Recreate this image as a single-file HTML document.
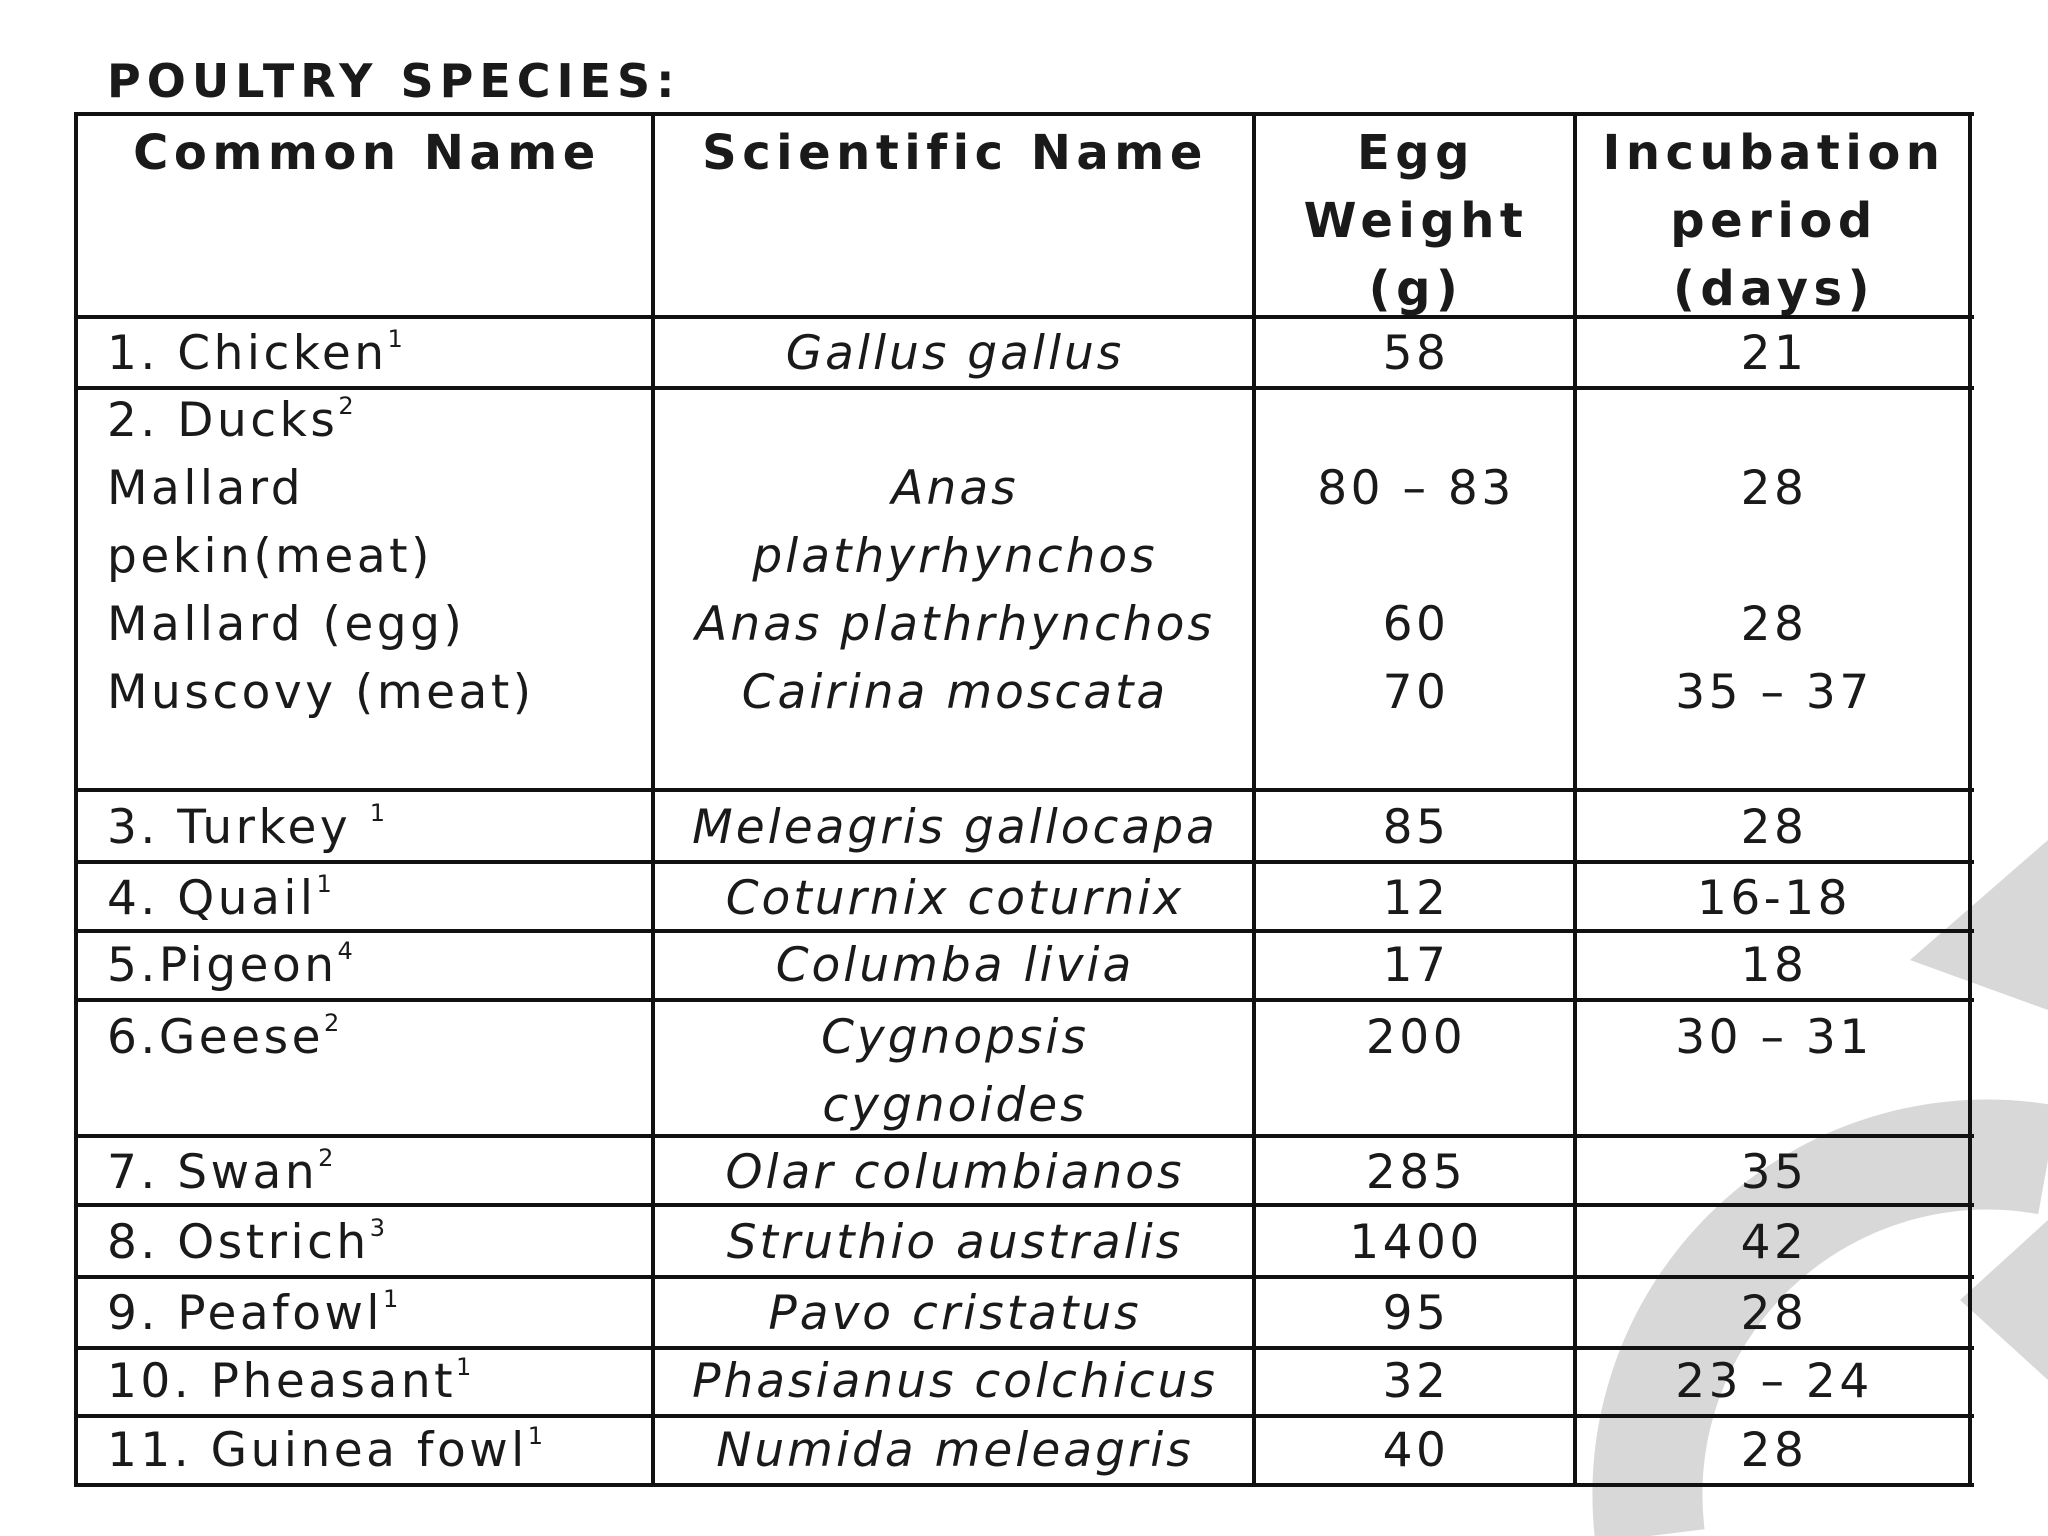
<!DOCTYPE html>
<html><head><meta charset="utf-8"><style>
body{margin:0;width:2048px;height:1536px;background:#fff;position:relative;overflow:hidden;font-family:"DejaVu Sans","Liberation Sans",sans-serif;color:#1a1a1a}
.t{position:absolute;font-size:47px;line-height:68px;white-space:nowrap;letter-spacing:3.5px}
.c{transform:translateX(-50%);text-align:center}
.i{font-style:italic;letter-spacing:3px}
.h{font-weight:bold;font-size:48px;letter-spacing:5.5px}
sup{font-size:24px;vertical-align:22px;line-height:0;letter-spacing:0}
.l{position:absolute;background:#111}
</style></head><body>
<svg style="position:absolute;left:0;top:0" width="2048" height="1536">
<path d="M1650 1536 A340 340 0 0 1 2048 1160" stroke="#d8d8d8" stroke-width="110" fill="none"/>
<path d="M1910 960 L2048 840 L2048 1010 Z" fill="#d8d8d8"/>
<path d="M1960 1300 L2048 1220 L2048 1380 Z" fill="#d8d8d8"/>
</svg>
<div class="t h" style="left:107px;top:47px;font-size:46px;letter-spacing:6px">POULTRY SPECIES:</div>
<div>
<div class="l" style="left:76px;top:112px;width:1898px;height:4px"></div>
<div class="l" style="left:76px;top:1483px;width:1898px;height:4px"></div>
<div class="l" style="left:74px;top:112px;width:4px;height:1375px"></div>
<div class="l" style="left:651px;top:112px;width:4px;height:1375px"></div>
<div class="l" style="left:1252px;top:112px;width:4px;height:1375px"></div>
<div class="l" style="left:1573px;top:112px;width:4px;height:1375px"></div>
<div class="l" style="left:1968px;top:112px;width:4px;height:1375px"></div>
<div class="l" style="left:76px;top:315px;width:1898px;height:4px"></div>
<div class="l" style="left:76px;top:386px;width:1898px;height:4px"></div>
<div class="l" style="left:76px;top:788px;width:1898px;height:4px"></div>
<div class="l" style="left:76px;top:860px;width:1898px;height:4px"></div>
<div class="l" style="left:76px;top:929px;width:1898px;height:4px"></div>
<div class="l" style="left:76px;top:998px;width:1898px;height:4px"></div>
<div class="l" style="left:76px;top:1134px;width:1898px;height:4px"></div>
<div class="l" style="left:76px;top:1203px;width:1898px;height:4px"></div>
<div class="l" style="left:76px;top:1275px;width:1898px;height:4px"></div>
<div class="l" style="left:76px;top:1346px;width:1898px;height:4px"></div>
<div class="l" style="left:76px;top:1414px;width:1898px;height:4px"></div>
</div>
<div class="t h c" style="left:367px;top:119px">Common Name</div>
<div class="t h c" style="left:955px;top:119px">Scientific Name</div>
<div class="t h c" style="left:1416px;top:119px">Egg<br>Weight<br>(g)</div>
<div class="t h c" style="left:1774px;top:119px">Incubation<br>period<br>(days)</div>
<div id="rows"></div>
<script>
const rows=[
[320,["1. Chicken<sup>1</sup>"],["Gallus gallus"],["58"],["21"]],
[388,["2. Ducks<sup>2</sup>","Mallard","pekin(meat)","Mallard (egg)","Muscovy (meat)"],["","Anas","plathyrhynchos","Anas plathrhynchos","Cairina moscata"],["","80 – 83","","60","70"],["","28","","28","35 – 37"]],
[794,["3. Turkey <sup>1</sup>"],["Meleagris gallocapa"],["85"],["28"]],
[865,["4. Quail<sup>1</sup>"],["Coturnix coturnix"],["12"],["16-18"]],
[932,["5.Pigeon<sup>4</sup>"],["Columba livia"],["17"],["18"]],
[1004,["6.Geese<sup>2</sup>"],["Cygnopsis","cygnoides"],["200"],["30 – 31"]],
[1139,["7. Swan<sup>2</sup>"],["Olar columbianos"],["285"],["35"]],
[1209,["8. Ostrich<sup>3</sup>"],["Struthio australis"],["1400"],["42"]],
[1280,["9. Peafowl<sup>1</sup>"],["Pavo cristatus"],["95"],["28"]],
[1348,["10. Pheasant<sup>1</sup>"],["Phasianus colchicus"],["32"],["23 – 24"]],
[1417,["11. Guinea fowl<sup>1</sup>"],["Numida meleagris"],["40"],["28"]]
];
const host=document.getElementById('rows');
rows.forEach((r,k)=>{
 const specs=[[107,'',r[1]],[955,' c i',r[2]],[1416,' c',r[3]],[1774,' c',r[4]]];
 specs.forEach((s,j)=>{
  const d=document.createElement('div');
  d.className='t'+s[1];
  d.style.left=s[0]+'px';d.style.top=(r[0]+(k===1?-1:0))+'px';
  d.innerHTML=s[2].join('<br>');
  
  
  host.appendChild(d);
 });
});
</script>
</body></html>
